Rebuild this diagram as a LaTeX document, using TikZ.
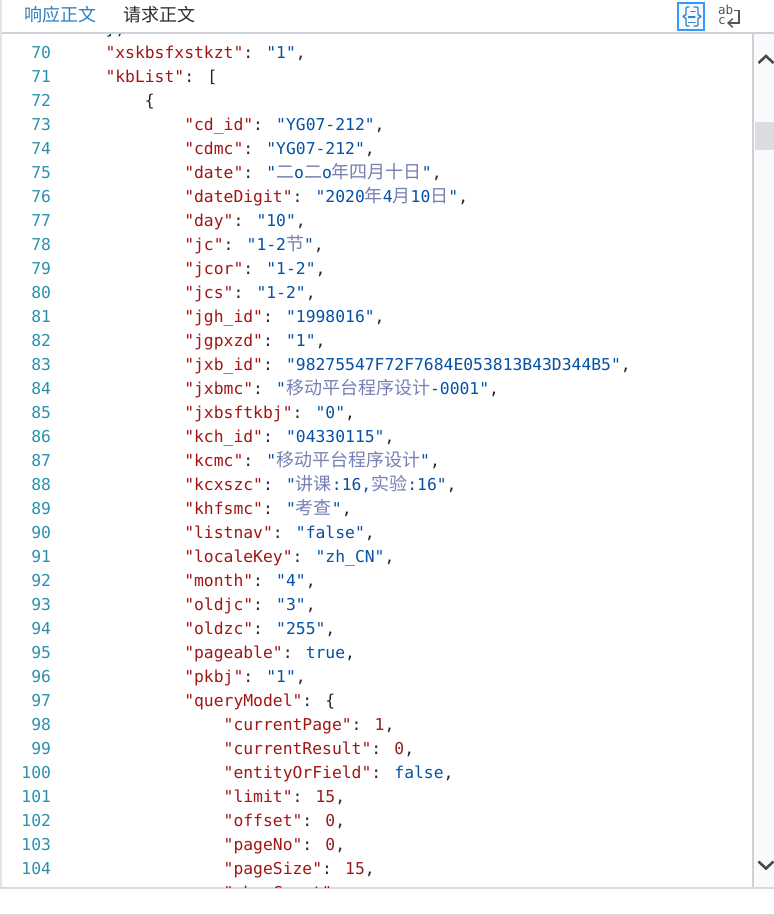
\documentclass[tikz,border=0pt]{standalone}
\usepackage{fontspec}
\usepackage{xcolor}
\usetikzlibrary{arrows.meta}
\newfontfamily\codefont{DejaVu Sans Mono}
\newfontfamily\cjkfont{Noto Sans CJK SC}
\definecolor{keyc}{HTML}{A31515}
\definecolor{strc}{HTML}{0451A5}
\definecolor{numc}{HTML}{9A1A1F}
\definecolor{cjkc}{HTML}{7680B4}
\definecolor{punct}{HTML}{26262E}
\definecolor{linec}{HTML}{2B91AF}
\definecolor{rulec}{HTML}{D0D0DC}
\definecolor{botc}{HTML}{DADADA}
\definecolor{thumbc}{HTML}{DCDCE0}
\definecolor{tabblue}{HTML}{2F7FC1}
\definecolor{iconblue}{HTML}{3399FF}
\definecolor{iconink}{HTML}{2F80C8}
\definecolor{grayink}{HTML}{555555}
\newcommand\cj[1]{{\fontsize{13.5pt}{13.5pt}\cjkfont\color{cjkc}#1}}
\newcommand\Kk[1]{\textcolor{keyc}{"#1"}}
\newcommand\Ss[1]{\textcolor{strc}{"#1"}}
\newcommand\Nn[1]{\textcolor{numc}{#1}}
\newcommand\Bb[1]{\textcolor{strc}{#1}}
\newcommand\Kv[2]{\Kk{#1}: #2}
\newcommand\Ln[3]{%
  \node[lineno] (n#1) at (51,{58+24*(#1-70)}) {#1};
  \node[codeline] (t#1) at (#2,{58+24*(#1-70)}) {#3};}
\tikzset{
  codeline/.style={anchor=base west,inner sep=0pt,outer sep=0pt,text=punct,font=\fontsize{12.27pt}{14pt}\codefont},
  lineno/.style={anchor=base east,inner sep=0pt,outer sep=0pt,text=linec,font=\fontsize{12.27pt}{14pt}\codefont},
  tabtext/.style={anchor=west,inner sep=0pt,outer sep=0pt,font=\fontsize{13.5pt}{14pt}\cjkfont},
  rulebar/.style={draw=none,fill=#1},
  chevron/.style={draw=grayink!85!black,line width=1.9pt,line cap=butt,line join=miter},
  bracestroke/.style={draw=iconink,line width=0.95pt,line cap=round,line join=round},
  iconlabel/.style={inner sep=0pt,outer sep=0pt,text=grayink,font=\fontsize{9.4pt}{9.4pt}\codefont}
}
\begin{document}
\begin{tikzpicture}[x=0.75pt,y=-0.75pt]
\useasboundingbox (0,0) rectangle (774,915);
\fill[white] (0,0) rectangle (774,915);
% frames
\fill[rulebar=rulec!60] (0,0) rectangle (2,887);
\fill[rulebar=rulec] (2,32) rectangle (774,34);
\fill[rulebar=black!2] (754,34) rectangle (774,887);
\fill[rulebar=rulec] (752,34) rectangle (754,887);
\fill[rulebar=thumbc] (755,122) rectangle (774,150);
\fill[rulebar=botc] (0,887) rectangle (774,889);
\fill[rulebar=botc] (0,914) rectangle (774,915);
% tabs
\node[tabtext,text=tabblue] (tabA) at (24,15) {响应正文};
\node[tabtext,text=black!82] (tabB) at (123,15) {请求正文};
% format icon
\draw[draw=iconblue,fill=iconblue!6,line width=1.6pt] (678,3) rectangle (704,30) ;
\draw[bracestroke] (689,7) -- (687,7) -- (686,8) -- (686,14.5) -- (683,16.5) -- (686,18.5) -- (686,25) -- (687,26) -- (689,26);
\draw[bracestroke] (694,7) -- (697,7) -- (698,8) -- (698,14.5) -- (701,16.5) -- (698,18.5) -- (698,25) -- (697,26) -- (694,26);
\draw[bracestroke] (691,11.5) -- (695,11.5);
\draw[bracestroke] (688.5,17) -- (695,17);
\draw[bracestroke] (688.5,22.5) -- (695,22.5);
% wrap icon
\node[iconlabel,anchor=base west] (iconab) at (718,14) {ab};
\node[iconlabel,anchor=base west] (iconc) at (718,24.5) {c};
\draw[draw=grayink,line width=1pt,line join=miter,-{Straight Barb[length=3.6pt,width=6.5pt]}] (734,10.5) -- (739,10.5) -- (739,23) -- (727,23);
% chevrons
\draw[chevron] (758.5,63) -- (766,56) -- (773.5,63);
\draw[chevron] (758.5,861.5) -- (766,868.5) -- (773.5,861.5);
% code
\begin{scope}
\clip (2,34) rectangle (752,887);
\node[codeline] (t69) at (105.5,34) {\},};
\Ln{70}{105.5}{\Kv{xskbsfxstkzt}{\Ss{1}},}
\Ln{71}{105.5}{\Kv{kbList}{[}}
\Ln{72}{144.9}{\{}
\Ln{73}{184.3}{\Kv{cd\_id}{\Ss{YG07-212}},}
\Ln{74}{184.3}{\Kv{cdmc}{\Ss{YG07-212}},}
\Ln{75}{184.3}{\Kv{date}{\Ss{\cj{二}o\cj{二}o\cj{年四月十日}}},}
\Ln{76}{184.3}{\Kv{dateDigit}{\Ss{2020\cj{年}4\cj{月}10\cj{日}}},}
\Ln{77}{184.3}{\Kv{day}{\Ss{10}},}
\Ln{78}{184.3}{\Kv{jc}{\Ss{1-2\cj{节}}},}
\Ln{79}{184.3}{\Kv{jcor}{\Ss{1-2}},}
\Ln{80}{184.3}{\Kv{jcs}{\Ss{1-2}},}
\Ln{81}{184.3}{\Kv{jgh\_id}{\Ss{1998016}},}
\Ln{82}{184.3}{\Kv{jgpxzd}{\Ss{1}},}
\Ln{83}{184.3}{\Kv{jxb\_id}{\Ss{98275547F72F7684E053813B43D344B5}},}
\Ln{84}{184.3}{\Kv{jxbmc}{\Ss{\cj{移动平台程序设计}-0001}},}
\Ln{85}{184.3}{\Kv{jxbsftkbj}{\Ss{0}},}
\Ln{86}{184.3}{\Kv{kch\_id}{\Ss{04330115}},}
\Ln{87}{184.3}{\Kv{kcmc}{\Ss{\cj{移动平台程序设计}}},}
\Ln{88}{184.3}{\Kv{kcxszc}{\Ss{\cj{讲课}:16,\cj{实验}:16}},}
\Ln{89}{184.3}{\Kv{khfsmc}{\Ss{\cj{考查}}},}
\Ln{90}{184.3}{\Kv{listnav}{\Ss{false}},}
\Ln{91}{184.3}{\Kv{localeKey}{\Ss{zh\_CN}},}
\Ln{92}{184.3}{\Kv{month}{\Ss{4}},}
\Ln{93}{184.3}{\Kv{oldjc}{\Ss{3}},}
\Ln{94}{184.3}{\Kv{oldzc}{\Ss{255}},}
\Ln{95}{184.3}{\Kv{pageable}{\Bb{true}},}
\Ln{96}{184.3}{\Kv{pkbj}{\Ss{1}},}
\Ln{97}{184.3}{\Kv{queryModel}{\{}}
\Ln{98}{223.7}{\Kv{currentPage}{\Nn{1}},}
\Ln{99}{223.7}{\Kv{currentResult}{\Nn{0}},}
\Ln{100}{223.7}{\Kv{entityOrField}{\Bb{false}},}
\Ln{101}{223.7}{\Kv{limit}{\Nn{15}},}
\Ln{102}{223.7}{\Kv{offset}{\Nn{0}},}
\Ln{103}{223.7}{\Kv{pageNo}{\Nn{0}},}
\Ln{104}{223.7}{\Kv{pageSize}{\Nn{15}},}
\node[codeline] (t105) at (223.7,898) {\Kk{showCount}};
\end{scope}
\end{tikzpicture}
\end{document}
